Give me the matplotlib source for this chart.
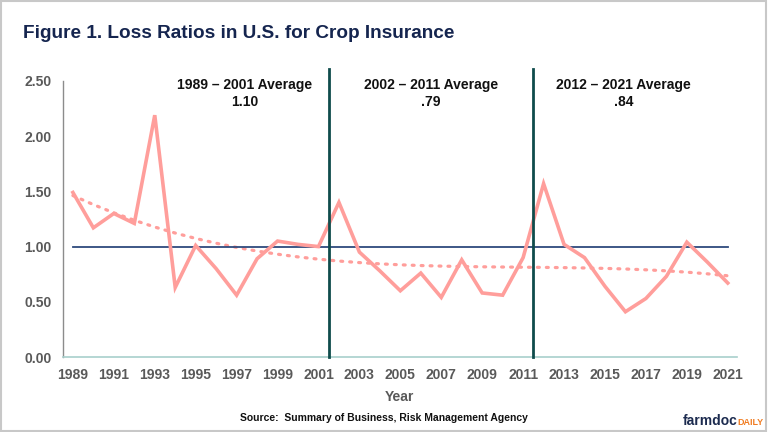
import numpy as np
import matplotlib
matplotlib.use("Agg")
import matplotlib.pyplot as plt
from matplotlib.patches import Rectangle

# === Data ===
years = list(range(1989, 2022))
loss_ratio = [1.49, 1.17, 1.30, 1.21, 2.19, 0.63, 1.01, 0.80, 0.56, 0.89,
              1.05, 1.02, 1.00, 1.40, 0.95, 0.78, 0.60, 0.76, 0.54, 0.88,
              0.58, 0.56, 0.90, 1.57, 1.02, 0.90, 0.64, 0.41, 0.53, 0.73,
              1.04, 0.86, 0.67]
period_breaks = [2001.5, 2011.5]
period_labels = ["1989 \u2013 2001 Average\n1.10",
                 "2002 \u2013 2011 Average\n.79",
                 "2012 \u2013 2021 Average\n.84"]
period_label_x = [1997.4, 2006.5, 2015.9]
yticks = [0.0, 0.5, 1.0, 1.5, 2.0, 2.5]
xticks = list(range(1989, 2022, 2))

# trendline like Excel's polynomial fit
coef = np.polyfit(np.arange(1, len(years) + 1), loss_ratio, 3)
trend = np.polyval(coef, np.arange(1, len(years) + 1))

plt.rcParams['font.family'] = ['Liberation Sans', 'DejaVu Sans']

fig = plt.figure(figsize=(7.68, 4.32), dpi=100)
ax = fig.add_axes([0.0816, 0.1736, 0.878, 0.639])

ax.plot(years, loss_ratio, color='#FF9E9B', lw=2.6, solid_joinstyle='miter', zorder=3)
ax.plot(years, trend, color='#FF9E9B', lw=2.3, ls=(0, (0.6, 2.2)), dash_capstyle='round', zorder=2)
ax.plot([years[0], years[-1]], [1.0, 1.0], color='#2E4A7D', lw=1.3, zorder=2)

for xb in period_breaks:
    ax.plot([xb, xb], [0, 2.61], color='#0F4C4C', lw=2.0, clip_on=False, zorder=4)

for xl, lab in zip(period_label_x, period_labels):
    ax.text(xl, 2.525, lab, ha='center', va='top', fontsize=10, fontweight='bold',
            color='#111111', linespacing=1.3)

ax.set_xlim(1988.5, 2021.45)
ax.set_ylim(0, 2.5)
ax.set_xticks(xticks)
ax.set_yticks(yticks)
ax.set_yticklabels([f"{v:.2f}" for v in yticks])
ax.tick_params(length=0, labelsize=10, labelcolor='#595959', pad=8)
for lab in ax.get_xticklabels() + ax.get_yticklabels():
    lab.set_fontweight('bold')
ax.set_xlabel('Year', fontsize=10, fontweight='bold', color='#595959', labelpad=6)

for s in ['top', 'right']:
    ax.spines[s].set_visible(False)
ax.spines['left'].set_color('#8C8C8C')
ax.spines['bottom'].set_color('#A8CFCC')
ax.spines['left'].set_linewidth(1.0)
ax.spines['bottom'].set_linewidth(1.2)

fig.text(0.030, 0.923, 'Figure 1. Loss Ratios in U.S. for Crop Insurance',
         fontsize=13.7, fontweight='bold', color='#15254F', va='center')
fig.text(0.5, 0.032, 'Source:  Summary of Business, Risk Management Agency',
         ha='center', va='center', fontsize=7.5, fontweight='bold', color='#111111')
fig.text(0.960, 0.025, 'farmdoc', ha='right', va='center', fontsize=10,
         fontweight='bold', color='#1C2B4F')
fig.text(0.960, 0.023, 'DAILY', ha='left', va='center', fontsize=6.5,
         fontweight='bold', color='#F07C22')

fig.patches.append(Rectangle((0.001, 0.002), 0.997, 0.995, transform=fig.transFigure,
                             fill=False, edgecolor='#C8C8C8', lw=1.5))

fig.savefig('out.png', dpi=100)
